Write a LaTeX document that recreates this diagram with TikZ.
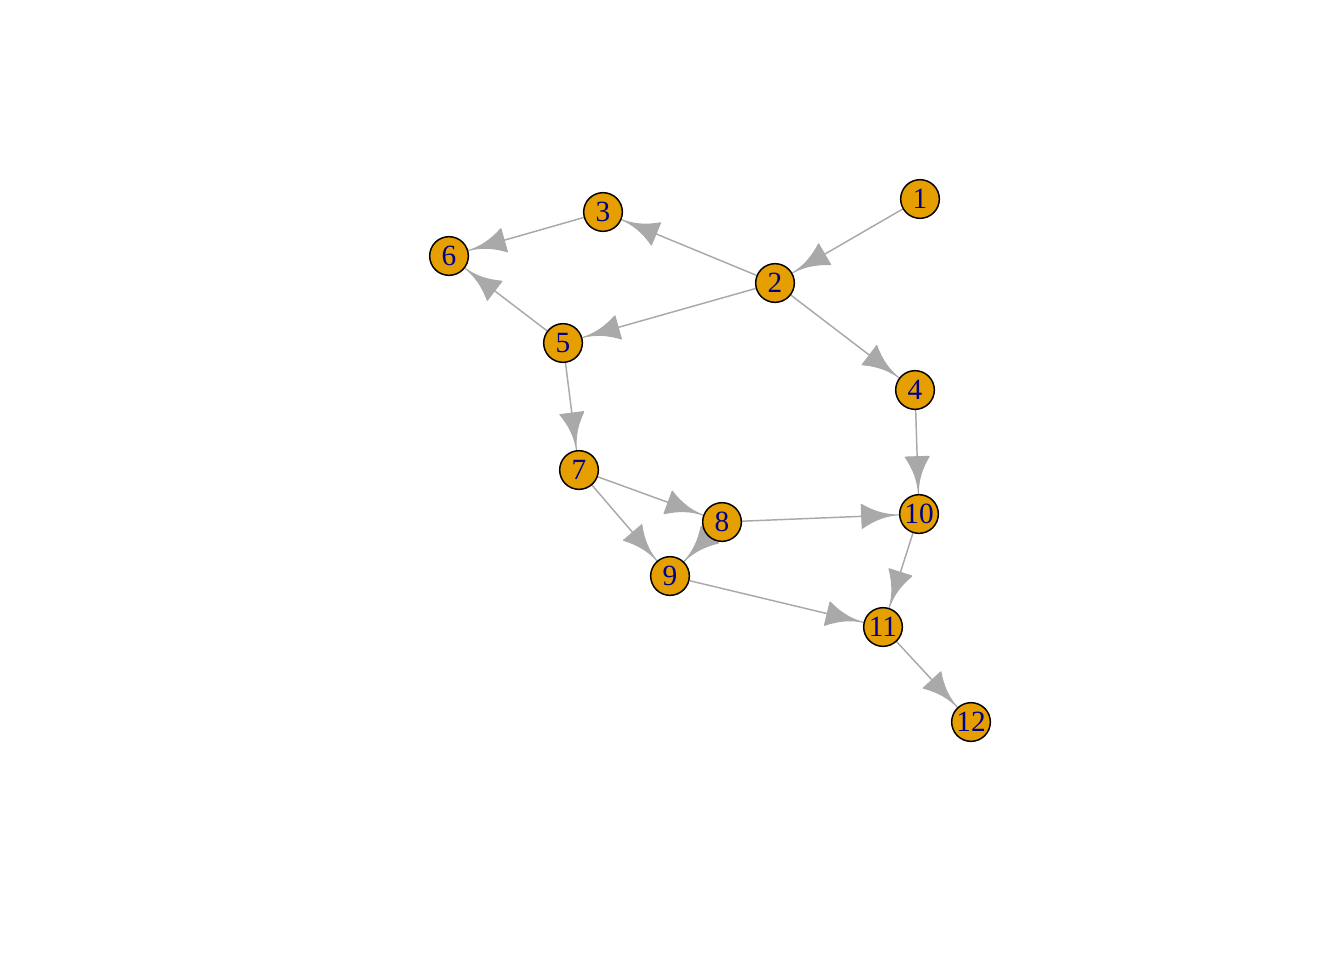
\documentclass[tikz,border=0pt]{standalone}
\usepackage{fontspec}
\setmainfont{Liberation Serif}
\usetikzlibrary{calc}
\pgfdeclarelayer{bg}
\pgfsetlayers{bg,main}
\definecolor{vfill}{HTML}{E69F00}
\definecolor{lblue}{HTML}{00008B}
\definecolor{ecol}{HTML}{A9A9A9}
\newcommand\gedge[2]{%
  \coordinate (T) at ($(#2.center)!15pt!(#1.center)$);
  \coordinate (B) at ($(#2.center)!43pt!(#1.center)$);
  \coordinate (M) at ($(T)!0.5!(B)$);
  \coordinate (C1) at ($(B)!9pt!90:(T)$);
  \coordinate (C2) at ($(B)!9pt!-90:(T)$);
  \filldraw[arrowhd] (T) .. controls ($(T)!0.3333!(B)$) and ($(C1)!0.6667!(M)$) .. (C1)
     -- (C2) .. controls ($(C2)!0.6667!(M)$) and ($(T)!0.3333!(B)$) .. (T) -- cycle;
  \draw[edgeline] (#1) -- (B);
}
\begin{document}
\begin{tikzpicture}[x=0.75pt,y=-0.75pt,
  vtx/.style={circle,draw=black,line width=1.1pt,fill=vfill,minimum size=29pt,
    inner sep=0pt,text=lblue,font=\fontsize{22}{22}\selectfont},
  edgeline/.style={draw=ecol,line width=1.1pt},
  arrowhd/.style={fill=ecol,draw=ecol,line width=0.8pt,line join=round}]
\useasboundingbox (0,0) rectangle (1344,960);
\node[vtx] (n1) at (920,199) {1};
\node[vtx] (n2) at (775,283) {2};
\node[vtx] (n3) at (603,212) {3};
\node[vtx] (n4) at (915,390) {4};
\node[vtx] (n5) at (563,343) {5};
\node[vtx] (n6) at (449,256) {6};
\node[vtx] (n7) at (579,470) {7};
\node[vtx] (n8) at (722,522) {8};
\node[vtx] (n9) at (670,576) {9};
\node[vtx] (n10) at (919,514) {10};
\node[vtx] (n11) at (883,627) {11};
\node[vtx] (n12) at (971,722) {12};
\begin{pgfonlayer}{bg}
\gedge{n1}{n2}
\gedge{n2}{n3}
\gedge{n2}{n5}
\gedge{n2}{n4}
\gedge{n3}{n6}
\gedge{n5}{n6}
\gedge{n5}{n7}
\gedge{n4}{n10}
\gedge{n7}{n8}
\gedge{n7}{n9}
\gedge{n8}{n9}
\gedge{n8}{n10}
\gedge{n9}{n11}
\gedge{n10}{n11}
\gedge{n11}{n12}
\end{pgfonlayer}
\end{tikzpicture}
\end{document}
